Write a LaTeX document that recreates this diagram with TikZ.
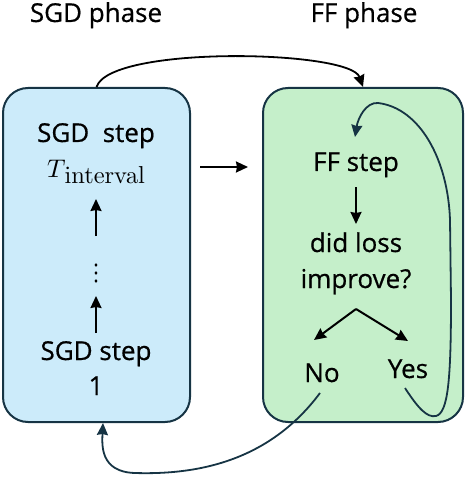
\documentclass[tikz,border=0pt]{standalone}
\usepackage[no-math]{fontspec}
\setmainfont{Open Sans}[FakeBold=0.6]
\usetikzlibrary{arrows.meta}
\definecolor{bluefill}{RGB}{204,235,250}
\definecolor{greenfill}{RGB}{197,239,202}
\definecolor{edgedark}{RGB}{22,52,68}
\newcommand{\tintlabel}{\scalebox{2.55}{\fontsize{10}{12}\selectfont$T$}\kern-1pt\raisebox{-6pt}{\scalebox{2.45}{\fontsize{10}{12}\selectfont$\mathrm{interval}$}}}
\tikzset{
  box/.style={draw=edgedark, line width=2pt, rounded corners=25pt, inner sep=0pt},
  lbl/.style={anchor=base, inner sep=0pt, font=\fontsize{26}{31}\selectfont},
  blk/.style={draw=black, line width=2pt, -{Stealth[length=12pt,width=11pt,inset=1pt]}},
  drk/.style={draw=edgedark, line width=1.8pt, -{Stealth[length=12pt,width=11pt,inset=1pt]}},
}
\begin{document}
\begin{tikzpicture}[x=1pt,y=-1pt]
\useasboundingbox (0,0) rectangle (468,481);
% titles
\node[lbl] (sgdtitle) at (96,22) {SGD phase};
\node[lbl] (fftitle) at (364,22) {FF phase};
% boxes
\node[box, fill=bluefill, minimum width=187pt, minimum height=334pt] (blue) at (96.5,255) {};
\node[box, fill=greenfill, minimum width=200pt, minimum height=334pt] (green) at (363,255) {};
% SGD box texts
\node[lbl] (sgdtop) at (96,142) {SGD\ \ step};
\node[lbl] (tint) at (96,177) {\tintlabel};
\node[inner sep=0pt] (dots) at (96,267) {\scalebox{2}{\fontsize{10}{12}\selectfont$\vdots$}};
\node[lbl] (sgdbot) at (96,360) {SGD step};
\node[lbl] (one) at (96,395) {1};
\coordinate (u1s) at (96,236);
\coordinate (u1e) at (96,199);
\coordinate (u2s) at (96,333);
\coordinate (u2e) at (96,296);
\draw[blk] (u1s) -- (u1e);
\draw[blk] (u2s) -- (u2e);
% FF box texts
\node[lbl] (ffstep) at (356,171) {FF step};
\node[lbl] (didloss) at (356,252) {did loss};
\node[lbl] (improve) at (356,288) {improve?};
\node[lbl] (no) at (322,382) {No};
\node[lbl] (yes) at (408,378) {Yes};
\coordinate (d1s) at (356,187);
\coordinate (d1e) at (356,224);
\draw[blk] (d1s) -- (d1e);
\coordinate (apex) at (356,309);
\coordinate (tipno) at (314,340);
\coordinate (tipyes) at (408,341);
\draw[blk] (apex) -- (tipno);
\draw[blk] (apex) -- (tipyes);
% between boxes
\coordinate (m1) at (200,167);
\coordinate (m2) at (248,167);
\draw[blk] (m1) -- (m2);
% top arc
\draw[blk, line width=1.8pt] (blue.north) .. controls (110,45) and (350,50) .. (green.north);
% yes loop
\coordinate (ys) at (405,388);
\coordinate (ffin) at (355,137);
\draw[drk] (ys) .. controls (418,408) and (427,418) .. (436,416)
  .. controls (448,413) and (451,380) .. (451,300)
  -- (450,220) .. controls (448,160) and (420,108) .. (378,103)
  .. controls (366,102) and (358,118) .. (ffin);
% no loop
\coordinate (ns) at (320,393);
\coordinate (sgdin) at (103,423);
\draw[drk] (ns) .. controls (270,460) and (200,475) .. (135,473)
  .. controls (100,472) and (102,445) .. (sgdin);
\end{tikzpicture}
\end{document}
